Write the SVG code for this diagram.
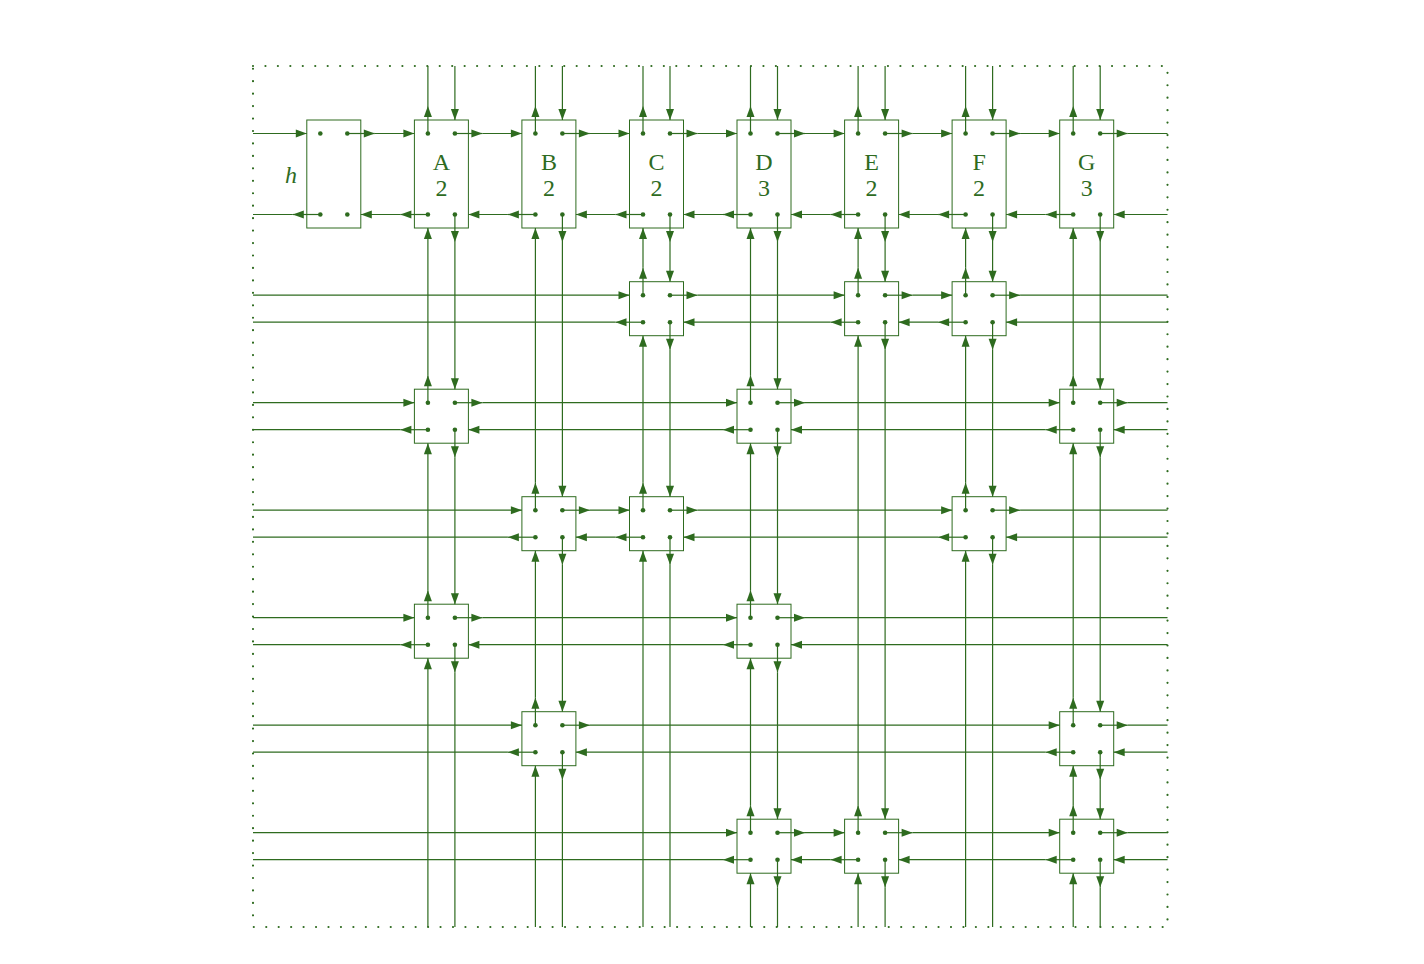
<svg xmlns="http://www.w3.org/2000/svg" width="1424" height="964" viewBox="0 0 1424 964">
<style>
#edges line{stroke:#2e6b1f;stroke-width:1.2;fill:none}
#edges line.a{marker-end:url(#ah)}
.n rect{fill:none;stroke:#2e6b1f;stroke-width:1}
.n circle{fill:#2e6b1f}
.t{font-family:"Liberation Serif","DejaVu Serif",serif;font-size:24px;fill:#2e6b1f;text-anchor:middle}
.border{fill:none;stroke:#2e6b1f;stroke-width:2.2;stroke-linecap:round;stroke-dasharray:0 12.45}
</style>
<defs>
<marker id="ah" markerUnits="userSpaceOnUse" markerWidth="11" markerHeight="8" refX="11" refY="4" orient="auto" overflow="visible"><path d="M0,0 L11,4 L0,8 z" fill="#2e6b1f"/></marker>
</defs>
<rect x="0" y="0" width="1424" height="964" fill="#ffffff"/>
<rect class="border" x="253" y="66" width="914.5" height="861"/>
<g id="edges">
<line class="a" x1="253" y1="133.5" x2="306.8" y2="133.5"/>
<line class="a" x1="347.3" y1="133.5" x2="374.8" y2="133.5"/>
<line class="a" x1="374.8" y1="133.5" x2="414.4" y2="133.5"/>
<line class="a" x1="454.9" y1="133.5" x2="482.4" y2="133.5"/>
<line class="a" x1="482.4" y1="133.5" x2="521.9" y2="133.5"/>
<line class="a" x1="562.4" y1="133.5" x2="589.9" y2="133.5"/>
<line class="a" x1="589.9" y1="133.5" x2="629.5" y2="133.5"/>
<line class="a" x1="670" y1="133.5" x2="697.5" y2="133.5"/>
<line class="a" x1="697.5" y1="133.5" x2="737" y2="133.5"/>
<line class="a" x1="777.5" y1="133.5" x2="805" y2="133.5"/>
<line class="a" x1="805" y1="133.5" x2="844.6" y2="133.5"/>
<line class="a" x1="885.1" y1="133.5" x2="912.6" y2="133.5"/>
<line class="a" x1="912.6" y1="133.5" x2="952.1" y2="133.5"/>
<line class="a" x1="992.6" y1="133.5" x2="1020.1" y2="133.5"/>
<line class="a" x1="1020.1" y1="133.5" x2="1059.7" y2="133.5"/>
<line class="a" x1="1100.2" y1="133.5" x2="1127.7" y2="133.5"/>
<line x1="1127.7" y1="133.5" x2="1167.5" y2="133.5"/>
<line class="a" x1="1167.5" y1="214.5" x2="1113.7" y2="214.5"/>
<line class="a" x1="1073.2" y1="214.5" x2="1045.7" y2="214.5"/>
<line class="a" x1="1045.7" y1="214.5" x2="1006.1" y2="214.5"/>
<line class="a" x1="965.6" y1="214.5" x2="938.1" y2="214.5"/>
<line class="a" x1="938.1" y1="214.5" x2="898.6" y2="214.5"/>
<line class="a" x1="858.1" y1="214.5" x2="830.6" y2="214.5"/>
<line class="a" x1="830.6" y1="214.5" x2="791" y2="214.5"/>
<line class="a" x1="750.5" y1="214.5" x2="723" y2="214.5"/>
<line class="a" x1="723" y1="214.5" x2="683.5" y2="214.5"/>
<line class="a" x1="643" y1="214.5" x2="615.5" y2="214.5"/>
<line class="a" x1="615.5" y1="214.5" x2="575.9" y2="214.5"/>
<line class="a" x1="535.4" y1="214.5" x2="507.9" y2="214.5"/>
<line class="a" x1="507.9" y1="214.5" x2="468.4" y2="214.5"/>
<line class="a" x1="427.9" y1="214.5" x2="400.4" y2="214.5"/>
<line class="a" x1="400.4" y1="214.5" x2="360.8" y2="214.5"/>
<line class="a" x1="320.3" y1="214.5" x2="292.8" y2="214.5"/>
<line x1="292.8" y1="214.5" x2="253" y2="214.5"/>
<line class="a" x1="253" y1="295.2" x2="629.5" y2="295.2"/>
<line class="a" x1="670" y1="295.2" x2="697.5" y2="295.2"/>
<line class="a" x1="697.5" y1="295.2" x2="844.6" y2="295.2"/>
<line class="a" x1="885.1" y1="295.2" x2="912.6" y2="295.2"/>
<line class="a" x1="912.6" y1="295.2" x2="952.1" y2="295.2"/>
<line class="a" x1="992.6" y1="295.2" x2="1020.1" y2="295.2"/>
<line x1="1020.1" y1="295.2" x2="1167.5" y2="295.2"/>
<line class="a" x1="1167.5" y1="322.2" x2="1006.1" y2="322.2"/>
<line class="a" x1="965.6" y1="322.2" x2="938.1" y2="322.2"/>
<line class="a" x1="938.1" y1="322.2" x2="898.6" y2="322.2"/>
<line class="a" x1="858.1" y1="322.2" x2="830.6" y2="322.2"/>
<line class="a" x1="830.6" y1="322.2" x2="683.5" y2="322.2"/>
<line class="a" x1="643" y1="322.2" x2="615.5" y2="322.2"/>
<line x1="615.5" y1="322.2" x2="253" y2="322.2"/>
<line class="a" x1="253" y1="402.7" x2="414.4" y2="402.7"/>
<line class="a" x1="454.9" y1="402.7" x2="482.4" y2="402.7"/>
<line class="a" x1="482.4" y1="402.7" x2="737" y2="402.7"/>
<line class="a" x1="777.5" y1="402.7" x2="805" y2="402.7"/>
<line class="a" x1="805" y1="402.7" x2="1059.7" y2="402.7"/>
<line class="a" x1="1100.2" y1="402.7" x2="1127.7" y2="402.7"/>
<line x1="1127.7" y1="402.7" x2="1167.5" y2="402.7"/>
<line class="a" x1="1167.5" y1="429.7" x2="1113.7" y2="429.7"/>
<line class="a" x1="1073.2" y1="429.7" x2="1045.7" y2="429.7"/>
<line class="a" x1="1045.7" y1="429.7" x2="791" y2="429.7"/>
<line class="a" x1="750.5" y1="429.7" x2="723" y2="429.7"/>
<line class="a" x1="723" y1="429.7" x2="468.4" y2="429.7"/>
<line class="a" x1="427.9" y1="429.7" x2="400.4" y2="429.7"/>
<line x1="400.4" y1="429.7" x2="253" y2="429.7"/>
<line class="a" x1="253" y1="510.2" x2="521.9" y2="510.2"/>
<line class="a" x1="562.4" y1="510.2" x2="589.9" y2="510.2"/>
<line class="a" x1="589.9" y1="510.2" x2="629.5" y2="510.2"/>
<line class="a" x1="670" y1="510.2" x2="697.5" y2="510.2"/>
<line class="a" x1="697.5" y1="510.2" x2="952.1" y2="510.2"/>
<line class="a" x1="992.6" y1="510.2" x2="1020.1" y2="510.2"/>
<line x1="1020.1" y1="510.2" x2="1167.5" y2="510.2"/>
<line class="a" x1="1167.5" y1="537.2" x2="1006.1" y2="537.2"/>
<line class="a" x1="965.6" y1="537.2" x2="938.1" y2="537.2"/>
<line class="a" x1="938.1" y1="537.2" x2="683.5" y2="537.2"/>
<line class="a" x1="643" y1="537.2" x2="615.5" y2="537.2"/>
<line class="a" x1="615.5" y1="537.2" x2="575.9" y2="537.2"/>
<line class="a" x1="535.4" y1="537.2" x2="507.9" y2="537.2"/>
<line x1="507.9" y1="537.2" x2="253" y2="537.2"/>
<line class="a" x1="253" y1="617.7" x2="414.4" y2="617.7"/>
<line class="a" x1="454.9" y1="617.7" x2="482.4" y2="617.7"/>
<line class="a" x1="482.4" y1="617.7" x2="737" y2="617.7"/>
<line class="a" x1="777.5" y1="617.7" x2="805" y2="617.7"/>
<line x1="805" y1="617.7" x2="1167.5" y2="617.7"/>
<line class="a" x1="1167.5" y1="644.7" x2="791" y2="644.7"/>
<line class="a" x1="750.5" y1="644.7" x2="723" y2="644.7"/>
<line class="a" x1="723" y1="644.7" x2="468.4" y2="644.7"/>
<line class="a" x1="427.9" y1="644.7" x2="400.4" y2="644.7"/>
<line x1="400.4" y1="644.7" x2="253" y2="644.7"/>
<line class="a" x1="253" y1="725.2" x2="521.9" y2="725.2"/>
<line class="a" x1="562.4" y1="725.2" x2="589.9" y2="725.2"/>
<line class="a" x1="589.9" y1="725.2" x2="1059.7" y2="725.2"/>
<line class="a" x1="1100.2" y1="725.2" x2="1127.7" y2="725.2"/>
<line x1="1127.7" y1="725.2" x2="1167.5" y2="725.2"/>
<line class="a" x1="1167.5" y1="752.2" x2="1113.7" y2="752.2"/>
<line class="a" x1="1073.2" y1="752.2" x2="1045.7" y2="752.2"/>
<line class="a" x1="1045.7" y1="752.2" x2="575.9" y2="752.2"/>
<line class="a" x1="535.4" y1="752.2" x2="507.9" y2="752.2"/>
<line x1="507.9" y1="752.2" x2="253" y2="752.2"/>
<line class="a" x1="253" y1="832.7" x2="737" y2="832.7"/>
<line class="a" x1="777.5" y1="832.7" x2="805" y2="832.7"/>
<line class="a" x1="805" y1="832.7" x2="844.6" y2="832.7"/>
<line class="a" x1="885.1" y1="832.7" x2="912.6" y2="832.7"/>
<line class="a" x1="912.6" y1="832.7" x2="1059.7" y2="832.7"/>
<line class="a" x1="1100.2" y1="832.7" x2="1127.7" y2="832.7"/>
<line x1="1127.7" y1="832.7" x2="1167.5" y2="832.7"/>
<line class="a" x1="1167.5" y1="859.7" x2="1113.7" y2="859.7"/>
<line class="a" x1="1073.2" y1="859.7" x2="1045.7" y2="859.7"/>
<line class="a" x1="1045.7" y1="859.7" x2="898.6" y2="859.7"/>
<line class="a" x1="858.1" y1="859.7" x2="830.6" y2="859.7"/>
<line class="a" x1="830.6" y1="859.7" x2="791" y2="859.7"/>
<line class="a" x1="750.5" y1="859.7" x2="723" y2="859.7"/>
<line x1="723" y1="859.7" x2="253" y2="859.7"/>
<line class="a" x1="427.9" y1="927" x2="427.9" y2="658.2"/>
<line class="a" x1="427.9" y1="617.7" x2="427.9" y2="590.2"/>
<line class="a" x1="427.9" y1="590.2" x2="427.9" y2="443.2"/>
<line class="a" x1="427.9" y1="402.7" x2="427.9" y2="375.2"/>
<line class="a" x1="427.9" y1="375.2" x2="427.9" y2="228"/>
<line class="a" x1="427.9" y1="133.5" x2="427.9" y2="106"/>
<line x1="427.9" y1="106" x2="427.9" y2="66"/>
<line class="a" x1="454.9" y1="66" x2="454.9" y2="120"/>
<line class="a" x1="454.9" y1="214.5" x2="454.9" y2="242"/>
<line class="a" x1="454.9" y1="242" x2="454.9" y2="389.2"/>
<line class="a" x1="454.9" y1="429.7" x2="454.9" y2="457.2"/>
<line class="a" x1="454.9" y1="457.2" x2="454.9" y2="604.2"/>
<line class="a" x1="454.9" y1="644.7" x2="454.9" y2="672.2"/>
<line x1="454.9" y1="672.2" x2="454.9" y2="927"/>
<line class="a" x1="535.4" y1="927" x2="535.4" y2="765.7"/>
<line class="a" x1="535.4" y1="725.2" x2="535.4" y2="697.7"/>
<line class="a" x1="535.4" y1="697.7" x2="535.4" y2="550.7"/>
<line class="a" x1="535.4" y1="510.2" x2="535.4" y2="482.7"/>
<line class="a" x1="535.4" y1="482.7" x2="535.4" y2="228"/>
<line class="a" x1="535.4" y1="133.5" x2="535.4" y2="106"/>
<line x1="535.4" y1="106" x2="535.4" y2="66"/>
<line class="a" x1="562.4" y1="66" x2="562.4" y2="120"/>
<line class="a" x1="562.4" y1="214.5" x2="562.4" y2="242"/>
<line class="a" x1="562.4" y1="242" x2="562.4" y2="496.7"/>
<line class="a" x1="562.4" y1="537.2" x2="562.4" y2="564.7"/>
<line class="a" x1="562.4" y1="564.7" x2="562.4" y2="711.7"/>
<line class="a" x1="562.4" y1="752.2" x2="562.4" y2="779.7"/>
<line x1="562.4" y1="779.7" x2="562.4" y2="927"/>
<line class="a" x1="643" y1="927" x2="643" y2="550.7"/>
<line class="a" x1="643" y1="510.2" x2="643" y2="482.7"/>
<line class="a" x1="643" y1="482.7" x2="643" y2="335.7"/>
<line class="a" x1="643" y1="295.2" x2="643" y2="267.7"/>
<line class="a" x1="643" y1="267.7" x2="643" y2="228"/>
<line class="a" x1="643" y1="133.5" x2="643" y2="106"/>
<line x1="643" y1="106" x2="643" y2="66"/>
<line class="a" x1="670" y1="66" x2="670" y2="120"/>
<line class="a" x1="670" y1="214.5" x2="670" y2="242"/>
<line class="a" x1="670" y1="242" x2="670" y2="281.7"/>
<line class="a" x1="670" y1="322.2" x2="670" y2="349.7"/>
<line class="a" x1="670" y1="349.7" x2="670" y2="496.7"/>
<line class="a" x1="670" y1="537.2" x2="670" y2="564.7"/>
<line x1="670" y1="564.7" x2="670" y2="927"/>
<line class="a" x1="750.5" y1="927" x2="750.5" y2="873.2"/>
<line class="a" x1="750.5" y1="832.7" x2="750.5" y2="805.2"/>
<line class="a" x1="750.5" y1="805.2" x2="750.5" y2="658.2"/>
<line class="a" x1="750.5" y1="617.7" x2="750.5" y2="590.2"/>
<line class="a" x1="750.5" y1="590.2" x2="750.5" y2="443.2"/>
<line class="a" x1="750.5" y1="402.7" x2="750.5" y2="375.2"/>
<line class="a" x1="750.5" y1="375.2" x2="750.5" y2="228"/>
<line class="a" x1="750.5" y1="133.5" x2="750.5" y2="106"/>
<line x1="750.5" y1="106" x2="750.5" y2="66"/>
<line class="a" x1="777.5" y1="66" x2="777.5" y2="120"/>
<line class="a" x1="777.5" y1="214.5" x2="777.5" y2="242"/>
<line class="a" x1="777.5" y1="242" x2="777.5" y2="389.2"/>
<line class="a" x1="777.5" y1="429.7" x2="777.5" y2="457.2"/>
<line class="a" x1="777.5" y1="457.2" x2="777.5" y2="604.2"/>
<line class="a" x1="777.5" y1="644.7" x2="777.5" y2="672.2"/>
<line class="a" x1="777.5" y1="672.2" x2="777.5" y2="819.2"/>
<line class="a" x1="777.5" y1="859.7" x2="777.5" y2="887.2"/>
<line x1="777.5" y1="887.2" x2="777.5" y2="927"/>
<line class="a" x1="858.1" y1="927" x2="858.1" y2="873.2"/>
<line class="a" x1="858.1" y1="832.7" x2="858.1" y2="805.2"/>
<line class="a" x1="858.1" y1="805.2" x2="858.1" y2="335.7"/>
<line class="a" x1="858.1" y1="295.2" x2="858.1" y2="267.7"/>
<line class="a" x1="858.1" y1="267.7" x2="858.1" y2="228"/>
<line class="a" x1="858.1" y1="133.5" x2="858.1" y2="106"/>
<line x1="858.1" y1="106" x2="858.1" y2="66"/>
<line class="a" x1="885.1" y1="66" x2="885.1" y2="120"/>
<line class="a" x1="885.1" y1="214.5" x2="885.1" y2="242"/>
<line class="a" x1="885.1" y1="242" x2="885.1" y2="281.7"/>
<line class="a" x1="885.1" y1="322.2" x2="885.1" y2="349.7"/>
<line class="a" x1="885.1" y1="349.7" x2="885.1" y2="819.2"/>
<line class="a" x1="885.1" y1="859.7" x2="885.1" y2="887.2"/>
<line x1="885.1" y1="887.2" x2="885.1" y2="927"/>
<line class="a" x1="965.6" y1="927" x2="965.6" y2="550.7"/>
<line class="a" x1="965.6" y1="510.2" x2="965.6" y2="482.7"/>
<line class="a" x1="965.6" y1="482.7" x2="965.6" y2="335.7"/>
<line class="a" x1="965.6" y1="295.2" x2="965.6" y2="267.7"/>
<line class="a" x1="965.6" y1="267.7" x2="965.6" y2="228"/>
<line class="a" x1="965.6" y1="133.5" x2="965.6" y2="106"/>
<line x1="965.6" y1="106" x2="965.6" y2="66"/>
<line class="a" x1="992.6" y1="66" x2="992.6" y2="120"/>
<line class="a" x1="992.6" y1="214.5" x2="992.6" y2="242"/>
<line class="a" x1="992.6" y1="242" x2="992.6" y2="281.7"/>
<line class="a" x1="992.6" y1="322.2" x2="992.6" y2="349.7"/>
<line class="a" x1="992.6" y1="349.7" x2="992.6" y2="496.7"/>
<line class="a" x1="992.6" y1="537.2" x2="992.6" y2="564.7"/>
<line x1="992.6" y1="564.7" x2="992.6" y2="927"/>
<line class="a" x1="1073.2" y1="927" x2="1073.2" y2="873.2"/>
<line class="a" x1="1073.2" y1="832.7" x2="1073.2" y2="805.2"/>
<line class="a" x1="1073.2" y1="805.2" x2="1073.2" y2="765.7"/>
<line class="a" x1="1073.2" y1="725.2" x2="1073.2" y2="697.7"/>
<line class="a" x1="1073.2" y1="697.7" x2="1073.2" y2="443.2"/>
<line class="a" x1="1073.2" y1="402.7" x2="1073.2" y2="375.2"/>
<line class="a" x1="1073.2" y1="375.2" x2="1073.2" y2="228"/>
<line class="a" x1="1073.2" y1="133.5" x2="1073.2" y2="106"/>
<line x1="1073.2" y1="106" x2="1073.2" y2="66"/>
<line class="a" x1="1100.2" y1="66" x2="1100.2" y2="120"/>
<line class="a" x1="1100.2" y1="214.5" x2="1100.2" y2="242"/>
<line class="a" x1="1100.2" y1="242" x2="1100.2" y2="389.2"/>
<line class="a" x1="1100.2" y1="429.7" x2="1100.2" y2="457.2"/>
<line class="a" x1="1100.2" y1="457.2" x2="1100.2" y2="711.7"/>
<line class="a" x1="1100.2" y1="752.2" x2="1100.2" y2="779.7"/>
<line class="a" x1="1100.2" y1="779.7" x2="1100.2" y2="819.2"/>
<line class="a" x1="1100.2" y1="859.7" x2="1100.2" y2="887.2"/>
<line x1="1100.2" y1="887.2" x2="1100.2" y2="927"/>
</g>
<g id="node-h" class="n">
<rect x="306.8" y="120" width="54" height="108"/>
<circle cx="320.3" cy="133.5" r="2.3"/><circle cx="347.3" cy="133.5" r="2.3"/>
<circle cx="320.3" cy="214.5" r="2.3"/><circle cx="347.3" cy="214.5" r="2.3"/>
</g>
<text class="t" x="291" y="182.5" font-style="italic">h</text>
<g id="node-A" class="n">
<rect x="414.4" y="120" width="54" height="108"/>
<circle cx="427.9" cy="133.5" r="2.3"/><circle cx="454.9" cy="133.5" r="2.3"/>
<circle cx="427.9" cy="214.5" r="2.3"/><circle cx="454.9" cy="214.5" r="2.3"/>
<text class="t" x="441.4" y="169.5">A</text><text class="t" x="441.4" y="195.5">2</text>
</g>
<g id="node-B" class="n">
<rect x="521.9" y="120" width="54" height="108"/>
<circle cx="535.4" cy="133.5" r="2.3"/><circle cx="562.4" cy="133.5" r="2.3"/>
<circle cx="535.4" cy="214.5" r="2.3"/><circle cx="562.4" cy="214.5" r="2.3"/>
<text class="t" x="548.9" y="169.5">B</text><text class="t" x="548.9" y="195.5">2</text>
</g>
<g id="node-C" class="n">
<rect x="629.5" y="120" width="54" height="108"/>
<circle cx="643" cy="133.5" r="2.3"/><circle cx="670" cy="133.5" r="2.3"/>
<circle cx="643" cy="214.5" r="2.3"/><circle cx="670" cy="214.5" r="2.3"/>
<text class="t" x="656.5" y="169.5">C</text><text class="t" x="656.5" y="195.5">2</text>
</g>
<g id="node-D" class="n">
<rect x="737" y="120" width="54" height="108"/>
<circle cx="750.5" cy="133.5" r="2.3"/><circle cx="777.5" cy="133.5" r="2.3"/>
<circle cx="750.5" cy="214.5" r="2.3"/><circle cx="777.5" cy="214.5" r="2.3"/>
<text class="t" x="764" y="169.5">D</text><text class="t" x="764" y="195.5">3</text>
</g>
<g id="node-E" class="n">
<rect x="844.6" y="120" width="54" height="108"/>
<circle cx="858.1" cy="133.5" r="2.3"/><circle cx="885.1" cy="133.5" r="2.3"/>
<circle cx="858.1" cy="214.5" r="2.3"/><circle cx="885.1" cy="214.5" r="2.3"/>
<text class="t" x="871.6" y="169.5">E</text><text class="t" x="871.6" y="195.5">2</text>
</g>
<g id="node-F" class="n">
<rect x="952.1" y="120" width="54" height="108"/>
<circle cx="965.6" cy="133.5" r="2.3"/><circle cx="992.6" cy="133.5" r="2.3"/>
<circle cx="965.6" cy="214.5" r="2.3"/><circle cx="992.6" cy="214.5" r="2.3"/>
<text class="t" x="979.1" y="169.5">F</text><text class="t" x="979.1" y="195.5">2</text>
</g>
<g id="node-G" class="n">
<rect x="1059.7" y="120" width="54" height="108"/>
<circle cx="1073.2" cy="133.5" r="2.3"/><circle cx="1100.2" cy="133.5" r="2.3"/>
<circle cx="1073.2" cy="214.5" r="2.3"/><circle cx="1100.2" cy="214.5" r="2.3"/>
<text class="t" x="1086.7" y="169.5">G</text><text class="t" x="1086.7" y="195.5">3</text>
</g>
<g id="node-C1" class="n"><rect x="629.5" y="281.7" width="54" height="54"/>
<circle cx="643" cy="295.2" r="2.3"/><circle cx="670" cy="295.2" r="2.3"/><circle cx="643" cy="322.2" r="2.3"/><circle cx="670" cy="322.2" r="2.3"/></g>
<g id="node-E1" class="n"><rect x="844.6" y="281.7" width="54" height="54"/>
<circle cx="858.1" cy="295.2" r="2.3"/><circle cx="885.1" cy="295.2" r="2.3"/><circle cx="858.1" cy="322.2" r="2.3"/><circle cx="885.1" cy="322.2" r="2.3"/></g>
<g id="node-F1" class="n"><rect x="952.1" y="281.7" width="54" height="54"/>
<circle cx="965.6" cy="295.2" r="2.3"/><circle cx="992.6" cy="295.2" r="2.3"/><circle cx="965.6" cy="322.2" r="2.3"/><circle cx="992.6" cy="322.2" r="2.3"/></g>
<g id="node-A2" class="n"><rect x="414.4" y="389.2" width="54" height="54"/>
<circle cx="427.9" cy="402.7" r="2.3"/><circle cx="454.9" cy="402.7" r="2.3"/><circle cx="427.9" cy="429.7" r="2.3"/><circle cx="454.9" cy="429.7" r="2.3"/></g>
<g id="node-D2" class="n"><rect x="737" y="389.2" width="54" height="54"/>
<circle cx="750.5" cy="402.7" r="2.3"/><circle cx="777.5" cy="402.7" r="2.3"/><circle cx="750.5" cy="429.7" r="2.3"/><circle cx="777.5" cy="429.7" r="2.3"/></g>
<g id="node-G2" class="n"><rect x="1059.7" y="389.2" width="54" height="54"/>
<circle cx="1073.2" cy="402.7" r="2.3"/><circle cx="1100.2" cy="402.7" r="2.3"/><circle cx="1073.2" cy="429.7" r="2.3"/><circle cx="1100.2" cy="429.7" r="2.3"/></g>
<g id="node-B3" class="n"><rect x="521.9" y="496.7" width="54" height="54"/>
<circle cx="535.4" cy="510.2" r="2.3"/><circle cx="562.4" cy="510.2" r="2.3"/><circle cx="535.4" cy="537.2" r="2.3"/><circle cx="562.4" cy="537.2" r="2.3"/></g>
<g id="node-C3" class="n"><rect x="629.5" y="496.7" width="54" height="54"/>
<circle cx="643" cy="510.2" r="2.3"/><circle cx="670" cy="510.2" r="2.3"/><circle cx="643" cy="537.2" r="2.3"/><circle cx="670" cy="537.2" r="2.3"/></g>
<g id="node-F3" class="n"><rect x="952.1" y="496.7" width="54" height="54"/>
<circle cx="965.6" cy="510.2" r="2.3"/><circle cx="992.6" cy="510.2" r="2.3"/><circle cx="965.6" cy="537.2" r="2.3"/><circle cx="992.6" cy="537.2" r="2.3"/></g>
<g id="node-A4" class="n"><rect x="414.4" y="604.2" width="54" height="54"/>
<circle cx="427.9" cy="617.7" r="2.3"/><circle cx="454.9" cy="617.7" r="2.3"/><circle cx="427.9" cy="644.7" r="2.3"/><circle cx="454.9" cy="644.7" r="2.3"/></g>
<g id="node-D4" class="n"><rect x="737" y="604.2" width="54" height="54"/>
<circle cx="750.5" cy="617.7" r="2.3"/><circle cx="777.5" cy="617.7" r="2.3"/><circle cx="750.5" cy="644.7" r="2.3"/><circle cx="777.5" cy="644.7" r="2.3"/></g>
<g id="node-B5" class="n"><rect x="521.9" y="711.7" width="54" height="54"/>
<circle cx="535.4" cy="725.2" r="2.3"/><circle cx="562.4" cy="725.2" r="2.3"/><circle cx="535.4" cy="752.2" r="2.3"/><circle cx="562.4" cy="752.2" r="2.3"/></g>
<g id="node-G5" class="n"><rect x="1059.7" y="711.7" width="54" height="54"/>
<circle cx="1073.2" cy="725.2" r="2.3"/><circle cx="1100.2" cy="725.2" r="2.3"/><circle cx="1073.2" cy="752.2" r="2.3"/><circle cx="1100.2" cy="752.2" r="2.3"/></g>
<g id="node-D6" class="n"><rect x="737" y="819.2" width="54" height="54"/>
<circle cx="750.5" cy="832.7" r="2.3"/><circle cx="777.5" cy="832.7" r="2.3"/><circle cx="750.5" cy="859.7" r="2.3"/><circle cx="777.5" cy="859.7" r="2.3"/></g>
<g id="node-E6" class="n"><rect x="844.6" y="819.2" width="54" height="54"/>
<circle cx="858.1" cy="832.7" r="2.3"/><circle cx="885.1" cy="832.7" r="2.3"/><circle cx="858.1" cy="859.7" r="2.3"/><circle cx="885.1" cy="859.7" r="2.3"/></g>
<g id="node-G6" class="n"><rect x="1059.7" y="819.2" width="54" height="54"/>
<circle cx="1073.2" cy="832.7" r="2.3"/><circle cx="1100.2" cy="832.7" r="2.3"/><circle cx="1073.2" cy="859.7" r="2.3"/><circle cx="1100.2" cy="859.7" r="2.3"/></g>
</svg>
